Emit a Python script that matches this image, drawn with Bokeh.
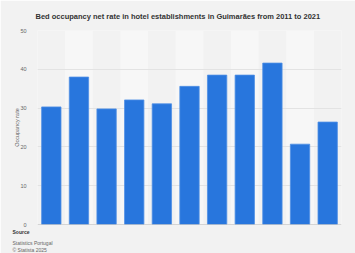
from bokeh.plotting import figure
from bokeh.models import FactorRange, Range1d, Span, Title
from bokeh.embed import file_html
from bokeh.resources import INLINE

years = ["2011", "2012", "2013", "2014", "2015", "2016", "2017", "2018", "2019", "2020", "2021"]
rates = [30.3, 38.0, 29.8, 32.1, 31.1, 35.6, 38.5, 38.5, 41.6, 20.7, 26.4]
band_years = years[1::2]
y_max = 50
y_ticks = [0, 10, 20, 30, 40, 50]

title_text = "Bed occupancy net rate in hotel establishments in Guimarães from 2011 to 2021"
y_label = "Occupancy rate"
source_head = "Source"
source_lines = ["Statistics Portugal", "© Statista 2025"]

FONT = "Liberation Sans"

p = figure(width=355, height=253, x_range=FactorRange(*years, range_padding=0),
           y_range=Range1d(0, y_max), output_backend="svg", toolbar_location=None,
           min_border_left=37, min_border_right=14, min_border_top=0, min_border_bottom=0)
p.background_fill_color = "#f2f2f2"
p.border_fill_color = "#f2f2f2"
p.outline_line_color = None

# alternating light bands
p.vbar(x=band_years, top=[y_max] * len(band_years), bottom=0, width=1.0,
       fill_color="#f7f7f7", line_color=None, level="underlay")

p.vbar(x=years, top=rates, width=0.7, fill_color="#2876dd", line_color="#4f8fe4", line_width=0.8)

p.xgrid.grid_line_color = None
p.ygrid.grid_line_color = "#e3e3e3"
p.ygrid.grid_line_width = 1
p.ygrid.level = "underlay"

p.yaxis.ticker = y_ticks
p.yaxis.axis_line_color = None
p.yaxis.major_tick_line_color = None
p.yaxis.minor_tick_line_color = None
p.yaxis.major_label_text_font = FONT
p.yaxis.major_label_text_font_size = "5.5px"
p.yaxis.major_label_text_color = "#666666"
p.yaxis.major_label_standoff = 5
p.yaxis.axis_label = y_label
p.yaxis.axis_label_text_font = FONT
p.yaxis.axis_label_text_font_size = "5.5px"
p.yaxis.axis_label_text_font_style = "normal"
p.yaxis.axis_label_text_color = "#666666"
p.yaxis.axis_label_standoff = -3

p.xaxis.visible = False
p.add_layout(Span(location=0, dimension="width", line_color="#b3b3b3", line_width=1))

p.title.text = title_text
p.title.text_font = FONT
p.title.text_font_size = "7.5px"
p.title.text_font_style = "bold"
p.title.text_color = "#333333"
p.title.align = "left"
p.title.offset = -2
p.title.standoff = 19

p.add_layout(Title(text=source_head, text_font=FONT, text_font_size="5px",
                   text_font_style="bold", text_color="#333333", padding=0,
                   align="left", offset=-25, standoff=5), "below")
p.add_layout(Title(text="\n".join(source_lines), text_font=FONT, text_font_size="5px",
                   text_font_style="normal", text_color="#666666", text_line_height=1.3,
                   padding=0, align="left", offset=-25, standoff=0), "below")

open("out.html", "w").write(file_html(p, INLINE))
